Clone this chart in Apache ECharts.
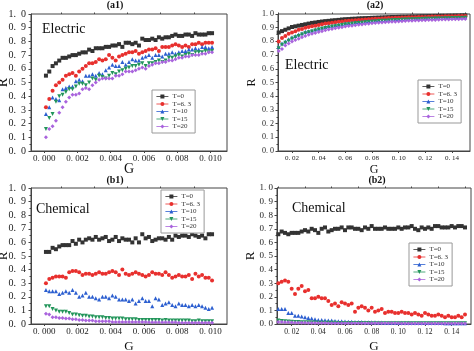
<!DOCTYPE html>
<html>
<head>
<meta charset="utf-8">
<script src="https://cdn.jsdelivr.net/npm/echarts@6/dist/echarts.min.js"></script>
<style>
html, body { margin: 0; padding: 0; background: #fff; }
#chart { width: 474px; height: 351px; }
</style>
</head>
<body>
<div id="chart"></div>
<script>
// x grids (G) of the left and right panels
var G1 = [0.0001, 0.0003, 0.0005, 0.0007, 0.0009, 0.0011, 0.0013, 0.0015, 0.0017, 0.0019,
  0.0021, 0.0023, 0.0025, 0.0027, 0.0029, 0.0031, 0.0033, 0.0035, 0.0037, 0.0039,
  0.0041, 0.0043, 0.0045, 0.0047, 0.0049, 0.0051, 0.0053, 0.0055, 0.0057, 0.0059,
  0.0061, 0.0063, 0.0065, 0.0067, 0.0069, 0.0071, 0.0073, 0.0075, 0.0077, 0.0079,
  0.0081, 0.0083, 0.0085, 0.0087, 0.0089, 0.0091, 0.0093, 0.0095, 0.0097, 0.0099, 0.0101];
var G2 = [0.0100, 0.0125, 0.0150, 0.0175, 0.0200, 0.0225, 0.0250, 0.0275, 0.0300, 0.0325,
  0.0350, 0.0375, 0.0400, 0.0425, 0.0450, 0.0475, 0.0500, 0.0525, 0.0550, 0.0575,
  0.0600, 0.0625, 0.0650, 0.0675, 0.0700, 0.0725, 0.0750, 0.0775, 0.0800, 0.0825,
  0.0850, 0.0875, 0.0900, 0.0925, 0.0950, 0.0975, 0.1000, 0.1025, 0.1050, 0.1075,
  0.1100, 0.1125, 0.1150, 0.1175, 0.1200, 0.1225, 0.1250, 0.1275, 0.1300, 0.1325,
  0.1350, 0.1375, 0.1400, 0.1425, 0.1450, 0.1475, 0.1500];

var names = ['T=0', 'T=6. 3', 'T=10', 'T=15', 'T=20'];
var colors = ['#333333', '#e8302e', '#2c5fd0', '#22955a', '#a963dd'];
var symbols = ['rect', 'circle', 'triangle', 'path://M0,0L10,0L5,9Z', 'diamond'];

var ticks1 = [0, 0.002, 0.004, 0.006, 0.008, 0.010];
var minor1 = [0.001, 0.003, 0.005, 0.007, 0.009];
var ticks2 = [0.02, 0.04, 0.06, 0.08, 0.10, 0.12, 0.14];
var minor2 = [0.01, 0.03, 0.05, 0.07, 0.09, 0.11, 0.13, 0.15];

// (a1) Electric
var a1T0 = [0.55, 0.58, 0.62, 0.64, 0.66, 0.68, 0.68, 0.69, 0.70, 0.70, 0.71, 0.72, 0.72, 0.74, 0.73, 0.75, 0.75, 0.75, 0.76, 0.76,
  0.77, 0.77, 0.78, 0.76, 0.79, 0.79, 0.78, 0.79, 0.77, 0.82, 0.81, 0.81, 0.82, 0.81, 0.83, 0.82, 0.83, 0.83, 0.84, 0.85,
  0.84, 0.84, 0.85, 0.85, 0.84, 0.86, 0.85, 0.85, 0.85, 0.86, 0.86];
var a1T6 = [0.32, 0.38, 0.44, 0.48, 0.50, 0.52, 0.55, 0.56, 0.57, 0.55, 0.58, 0.60, 0.62, 0.64, 0.64, 0.65, 0.67, 0.66, 0.67, 0.70,
  0.68, 0.66, 0.69, 0.70, 0.71, 0.72, 0.72, 0.73, 0.71, 0.72, 0.73, 0.74, 0.74, 0.75, 0.73, 0.76, 0.76, 0.76, 0.77, 0.78,
  0.77, 0.76, 0.77, 0.76, 0.78, 0.78, 0.79, 0.78, 0.79, 0.79, 0.79];
var a1T10 = [0.27, 0.32, 0.39, 0.38, 0.37, 0.45, 0.46, 0.47, 0.47, 0.51, 0.52, 0.51, 0.55, 0.55, 0.56, 0.55, 0.57, 0.56, 0.59, 0.61,
  0.63, 0.62, 0.62, 0.65, 0.63, 0.65, 0.67, 0.66, 0.66, 0.68, 0.69, 0.70, 0.68, 0.70, 0.70, 0.69, 0.71, 0.71, 0.72, 0.71,
  0.72, 0.73, 0.73, 0.74, 0.74, 0.75, 0.74, 0.76, 0.76, 0.75, 0.76];
var a1T15 = [0.16, 0.24, 0.27, 0.36, 0.40, 0.41, 0.43, 0.45, 0.45, 0.47, 0.49, 0.49, 0.48, 0.50, 0.53, 0.52, 0.55, 0.54, 0.53, 0.55,
  0.57, 0.56, 0.58, 0.59, 0.60, 0.61, 0.62, 0.62, 0.63, 0.64, 0.62, 0.64, 0.64, 0.65, 0.66, 0.65, 0.66, 0.68, 0.68, 0.69,
  0.70, 0.69, 0.70, 0.71, 0.70, 0.72, 0.72, 0.72, 0.73, 0.72, 0.73];
var a1T20 = [0.10, 0.16, 0.18, 0.22, 0.28, 0.32, 0.36, 0.39, 0.41, 0.41, 0.42, 0.45, 0.46, 0.45, 0.48, 0.50, 0.52, 0.53, 0.53, 0.53,
  0.53, 0.55, 0.55, 0.56, 0.58, 0.58, 0.58, 0.59, 0.60, 0.61, 0.60, 0.62, 0.63, 0.64, 0.64, 0.65, 0.65, 0.66, 0.66, 0.67,
  0.68, 0.68, 0.69, 0.69, 0.70, 0.70, 0.70, 0.71, 0.71, 0.72, 0.72];

// (a2) Electric
var a2T0 = [0.865, 0.875, 0.885, 0.895, 0.905, 0.91, 0.915, 0.92, 0.925, 0.93, 0.935, 0.938, 0.942, 0.945, 0.948, 0.95, 0.953, 0.955, 0.957, 0.96,
  0.962, 0.963, 0.965, 0.966, 0.968, 0.969, 0.97, 0.971, 0.972, 0.973, 0.974, 0.975, 0.976, 0.977, 0.978, 0.978, 0.979, 0.98, 0.98, 0.981,
  0.982, 0.982, 0.983, 0.984, 0.984, 0.985, 0.985, 0.986, 0.986, 0.987, 0.987, 0.988, 0.988, 0.989, 0.989, 0.99, 0.99];
var a2T6 = [0.80, 0.825, 0.84, 0.855, 0.865, 0.875, 0.885, 0.89, 0.9, 0.905, 0.91, 0.915, 0.92, 0.925, 0.93, 0.933, 0.937, 0.94, 0.943, 0.946,
  0.948, 0.95, 0.952, 0.954, 0.956, 0.958, 0.96, 0.962, 0.963, 0.965, 0.966, 0.967, 0.969, 0.97, 0.971, 0.972, 0.973, 0.974, 0.975, 0.976,
  0.977, 0.977, 0.978, 0.979, 0.979, 0.98, 0.981, 0.981, 0.982, 0.982, 0.983, 0.983, 0.984, 0.984, 0.985, 0.985, 0.986];
var a2T10 = [0.76, 0.785, 0.80, 0.815, 0.83, 0.84, 0.85, 0.86, 0.87, 0.875, 0.88, 0.887, 0.893, 0.9, 0.905, 0.91, 0.914, 0.918, 0.922, 0.926,
  0.93, 0.933, 0.936, 0.939, 0.942, 0.944, 0.946, 0.948, 0.95, 0.952, 0.954, 0.955, 0.957, 0.958, 0.96, 0.961, 0.962, 0.963, 0.964, 0.965,
  0.966, 0.967, 0.968, 0.969, 0.97, 0.97, 0.971, 0.972, 0.972, 0.973, 0.974, 0.974, 0.975, 0.975, 0.976, 0.976, 0.977];
var a2T15 = [0.75, 0.775, 0.79, 0.805, 0.82, 0.83, 0.84, 0.85, 0.86, 0.867, 0.873, 0.88, 0.886, 0.892, 0.897, 0.902, 0.907, 0.911, 0.915, 0.919,
  0.923, 0.926, 0.929, 0.932, 0.935, 0.937, 0.94, 0.942, 0.944, 0.946, 0.948, 0.95, 0.951, 0.953, 0.954, 0.956, 0.957, 0.958, 0.959, 0.96,
  0.961, 0.962, 0.963, 0.964, 0.965, 0.965, 0.966, 0.967, 0.967, 0.968, 0.969, 0.969, 0.97, 0.97, 0.971, 0.971, 0.972];
var a2T20 = [0.73, 0.745, 0.77, 0.785, 0.80, 0.81, 0.82, 0.83, 0.84, 0.848, 0.855, 0.862, 0.869, 0.875, 0.881, 0.886, 0.891, 0.896, 0.9, 0.904,
  0.908, 0.912, 0.915, 0.918, 0.921, 0.924, 0.927, 0.929, 0.932, 0.934, 0.936, 0.938, 0.94, 0.941, 0.943, 0.944, 0.946, 0.947, 0.948, 0.95,
  0.951, 0.952, 0.953, 0.954, 0.955, 0.956, 0.957, 0.957, 0.958, 0.959, 0.96, 0.96, 0.961, 0.962, 0.962, 0.963, 0.963];

// (b1) Chemical
var b1T0 = [0.53, 0.53, 0.56, 0.55, 0.57, 0.58, 0.58, 0.58, 0.61, 0.59, 0.62, 0.60, 0.62, 0.63, 0.62, 0.64, 0.62, 0.63, 0.64, 0.61,
  0.62, 0.64, 0.61, 0.63, 0.62, 0.62, 0.60, 0.63, 0.60, 0.66, 0.63, 0.64, 0.61, 0.62, 0.63, 0.63, 0.62, 0.64, 0.62, 0.65,
  0.64, 0.65, 0.65, 0.64, 0.66, 0.65, 0.64, 0.65, 0.63, 0.66, 0.66];
var b1T6 = [0.30, 0.33, 0.34, 0.35, 0.35, 0.35, 0.34, 0.38, 0.39, 0.39, 0.38, 0.36, 0.37, 0.37, 0.36, 0.37, 0.38, 0.37, 0.37, 0.38,
  0.39, 0.38, 0.36, 0.40, 0.37, 0.36, 0.37, 0.38, 0.37, 0.36, 0.35, 0.36, 0.38, 0.37, 0.37, 0.36, 0.38, 0.36, 0.34, 0.35,
  0.36, 0.35, 0.35, 0.36, 0.33, 0.37, 0.35, 0.36, 0.34, 0.34, 0.32];
var b1T10 = [0.25, 0.24, 0.24, 0.24, 0.22, 0.23, 0.24, 0.23, 0.25, 0.23, 0.20, 0.21, 0.23, 0.20, 0.20, 0.19, 0.18, 0.20, 0.20, 0.19,
  0.21, 0.20, 0.18, 0.18, 0.18, 0.17, 0.18, 0.15, 0.17, 0.19, 0.17, 0.17, 0.13, 0.19, 0.18, 0.14, 0.15, 0.16, 0.14, 0.13,
  0.15, 0.14, 0.14, 0.13, 0.14, 0.13, 0.14, 0.13, 0.12, 0.11, 0.12];
var b1T15 = [0.13, 0.13, 0.11, 0.10, 0.09, 0.09, 0.09, 0.08, 0.07, 0.07, 0.065, 0.06, 0.06, 0.055, 0.055, 0.05, 0.05, 0.05, 0.045, 0.045,
  0.04, 0.04, 0.04, 0.04, 0.035, 0.035, 0.035, 0.035, 0.03, 0.03, 0.03, 0.03, 0.03, 0.03, 0.03, 0.025, 0.03, 0.025, 0.025, 0.025,
  0.025, 0.025, 0.025, 0.025, 0.02, 0.02, 0.025, 0.02, 0.02, 0.02, 0.02];
var b1T20 = [0.075, 0.07, 0.05, 0.05, 0.045, 0.045, 0.04, 0.04, 0.035, 0.035, 0.03, 0.03, 0.025, 0.025, 0.025, 0.02, 0.02, 0.02, 0.02, 0.02,
  0.015, 0.015, 0.015, 0.015, 0.015, 0.015, 0.015, 0.015, 0.015, 0.015, 0.015, 0.012, 0.012, 0.012, 0.012, 0.012, 0.012, 0.012, 0.012, 0.012,
  0.01, 0.01, 0.01, 0.01, 0.01, 0.01, 0.01, 0.01, 0.01, 0.01, 0.01];

// (b2) Chemical
var b2T0 = [0.66, 0.68, 0.67, 0.66, 0.67, 0.67, 0.67, 0.68, 0.69, 0.68, 0.70, 0.69, 0.67, 0.70, 0.71, 0.68, 0.69, 0.70, 0.70, 0.71,
  0.69, 0.71, 0.71, 0.70, 0.70, 0.69, 0.71, 0.70, 0.72, 0.70, 0.70, 0.70, 0.71, 0.70, 0.70, 0.70, 0.71, 0.70, 0.71, 0.71,
  0.72, 0.70, 0.69, 0.71, 0.70, 0.71, 0.70, 0.72, 0.72, 0.71, 0.71, 0.71, 0.72, 0.71, 0.72, 0.72, 0.71];
var b2T6 = [0.30, 0.31, 0.32, 0.31, 0.26, 0.22, 0.26, 0.28, 0.24, 0.25, 0.19, 0.19, 0.20, 0.19, 0.19, 0.17, 0.14, 0.15, 0.13, 0.16,
  0.15, 0.14, 0.15, 0.09, 0.12, 0.13, 0.12, 0.10, 0.12, 0.09, 0.10, 0.11, 0.08, 0.09, 0.09, 0.08, 0.08, 0.09, 0.08, 0.08,
  0.07, 0.08, 0.07, 0.06, 0.08, 0.07, 0.06, 0.06, 0.07, 0.06, 0.05, 0.06, 0.05, 0.05, 0.06, 0.05, 0.07];
var b2T10 = [0.11, 0.11, 0.11, 0.08, 0.08, 0.06, 0.06, 0.055, 0.05, 0.045, 0.04, 0.035, 0.03, 0.03, 0.028, 0.025, 0.025, 0.022, 0.02, 0.02,
  0.018, 0.017, 0.016, 0.015, 0.015, 0.014, 0.013, 0.013, 0.012, 0.012, 0.011, 0.011, 0.01, 0.01, 0.01, 0.01, 0.009, 0.009, 0.009, 0.009,
  0.008, 0.008, 0.008, 0.008, 0.008, 0.007, 0.007, 0.007, 0.007, 0.007, 0.006, 0.006, 0.006, 0.006, 0.006, 0.006, 0.006];
var b2T15 = [0.025, 0.022, 0.02, 0.018, 0.016, 0.015, 0.014, 0.013, 0.012, 0.012, 0.011, 0.011, 0.01, 0.01, 0.01, 0.009, 0.009, 0.009, 0.008, 0.008,
  0.008, 0.008, 0.007, 0.007, 0.007, 0.007, 0.007, 0.007, 0.006, 0.006, 0.006, 0.006, 0.006, 0.006, 0.006, 0.006, 0.006, 0.005, 0.005, 0.005,
  0.005, 0.005, 0.005, 0.005, 0.005, 0.005, 0.005, 0.005, 0.005, 0.005, 0.005, 0.005, 0.005, 0.005, 0.005, 0.005, 0.005];
var b2T20 = [0.015, 0.014, 0.013, 0.012, 0.011, 0.01, 0.01, 0.009, 0.009, 0.008, 0.008, 0.008, 0.007, 0.007, 0.007, 0.006, 0.006, 0.006, 0.006, 0.006,
  0.005, 0.005, 0.005, 0.005, 0.005, 0.005, 0.005, 0.005, 0.005, 0.005, 0.005, 0.005, 0.005, 0.005, 0.005, 0.005, 0.005, 0.004, 0.004, 0.004,
  0.004, 0.004, 0.004, 0.004, 0.004, 0.004, 0.004, 0.004, 0.004, 0.004, 0.004, 0.004, 0.004, 0.004, 0.004, 0.004, 0.004];

var serif = '"Liberation Serif", "Times New Roman", serif';

// one entry per panel: grid box, x range, font sizes, data
var panels = [
  { box: { left: 31, top: 14, width: 196, height: 137 }, xs: G1, min: -0.0008, max: 0.011, ticks: ticks1, minor: minor1, dec: 3,
    xFont: 9, yFont: 10, ySep: '.  ', nameFont: 14, rGap: 21, gGap: 11, xMargin: 3, yMargin: 5,
    series: [a1T0, a1T6, a1T10, a1T15, a1T20] },
  { box: { left: 278, top: 14, width: 192, height: 137 }, xs: G2, min: 0.0095, max: 0.1535, ticks: ticks2, minor: minor2, dec: 2,
    xFont: 7, yFont: 8, ySep: '. ', nameFont: 12, rGap: 20, gGap: 13, xMargin: 4, yMargin: 4,
    series: [a2T0, a2T6, a2T10, a2T15, a2T20] },
  { box: { left: 31, top: 188, width: 196, height: 136 }, xs: G1, min: -0.0008, max: 0.011, ticks: ticks1, minor: minor1, dec: 3,
    xFont: 9, yFont: 10, ySep: '.  ', nameFont: 13, rGap: 21, gGap: 16, xMargin: 3, yMargin: 5,
    series: [b1T0, b1T6, b1T10, b1T15, b1T20] },
  { box: { left: 277, top: 188, width: 194, height: 136 }, xs: G2, min: 0.009, max: 0.1545, ticks: ticks2, minor: minor2, dec: 2,
    xFont: 7.5, yFont: 9, ySep: '. ', nameFont: 13, rGap: 20, gGap: 16, xMargin: 4, yMargin: 4,
    series: [b2T0, b2T6, b2T10, b2T15, b2T20] }
];

var legendPos = [
  { left: 152, top: 90 },
  { left: 418, top: 80 },
  { left: 161, top: 190 },
  { left: 409, top: 243 }
];

function pairs(xs, ys) {
  return xs.map(function (x, i) { return [x, ys[i]]; });
}

var grid = [], xAxis = [], yAxis = [], series = [], legend = [];

panels.forEach(function (p, pi) {
  grid.push(Object.assign({ show: true, borderColor: '#444', borderWidth: 1, outerBoundsMode: 'none', containLabel: false }, p.box));

  xAxis.push({
    type: 'value', gridIndex: pi, min: p.min, max: p.max,
    name: 'G', nameLocation: 'middle', nameGap: p.gGap, nameMoveOverlap: false,
    nameTextStyle: { fontFamily: serif, fontSize: p.nameFont, color: '#111', verticalAlign: 'top' },
    axisLine: { show: true, onZero: false, lineStyle: { color: '#444' } },
    axisTick: { show: true, length: 2, customValues: p.ticks, lineStyle: { color: '#444' } },
    axisLabel: {
      customValues: p.ticks, margin: p.xMargin, fontSize: p.xFont, fontFamily: serif, color: '#222',
      formatter: (function (d) { return function (v) { return v.toFixed(d).replace('.', '. '); }; })(p.dec)
    },
    splitLine: { show: false }
  });
  // minor ticks
  xAxis.push({
    type: 'value', gridIndex: pi, min: p.min, max: p.max,
    axisLine: { show: false, onZero: false },
    axisTick: { show: true, length: 1.5, customValues: p.minor, lineStyle: { color: '#444' } },
    axisLabel: { show: false, customValues: p.minor },
    splitLine: { show: false }
  });

  yAxis.push({
    type: 'value', gridIndex: pi, min: 0, max: 1, interval: 0.1,
    name: 'R', nameLocation: 'middle', nameGap: p.rGap, nameRotate: 90, nameMoveOverlap: false,
    nameTextStyle: { fontFamily: serif, fontSize: p.nameFont, color: '#111' },
    axisLine: { show: true, onZero: false, lineStyle: { color: '#444' } },
    axisTick: { show: true, length: 2.5, lineStyle: { color: '#444' } },
    minorTick: { show: true, splitNumber: 2, length: 1.5, lineStyle: { color: '#444' } },
    axisLabel: {
      margin: p.yMargin, fontSize: p.yFont, fontFamily: serif, color: '#222',
      formatter: (function (sep) {
        return function (v) { return v.toFixed(1).replace('.', sep); };
      })(p.ySep)
    },
    splitLine: { show: false }
  });

  p.series.forEach(function (vals, k) {
    series.push({
      type: 'line', name: names[k], xAxisIndex: pi * 2, yAxisIndex: pi,
      data: pairs(p.xs, vals),
      symbol: symbols[k], symbolSize: 4, showAllSymbol: true,
      lineStyle: { opacity: 0 },
      itemStyle: { color: colors[k] },
      silent: true
    });
  });

  legend.push(Object.assign({
    orient: 'vertical', data: names, itemWidth: 12, itemHeight: 5, itemGap: 0.5,
    padding: [3, 4, 3, 4], borderColor: '#999', borderWidth: 1, backgroundColor: '#fff',
    textStyle: { fontFamily: serif, fontSize: 7, lineHeight: 7, color: '#333', padding: [0, 0, 0, -1] },
    lineStyle: { opacity: 1, width: 0.8 },
    selectedMode: false
  }, legendPos[pi]));
});

var titles = [
  { text: '(a1)', left: 115, top: 0 },
  { text: '(a2)', left: 375, top: 0 },
  { text: '(b1)', left: 115, top: 175 },
  { text: '(b2)', left: 377, top: 175 }
].map(function (t) {
  return {
    text: t.text, left: t.left, top: t.top, textAlign: 'center', padding: 0,
    textStyle: { fontFamily: serif, fontSize: 10, fontWeight: 'bold', color: '#111' }
  };
});

var notes = [
  { text: 'Electric', x: 42, y: 29 },
  { text: 'Electric', x: 285, y: 65 },
  { text: 'Chemical', x: 36, y: 209 },
  { text: 'Chemical', x: 292, y: 208 }
];

var chart = echarts.init(document.getElementById('chart'));
chart.setOption({
  animation: false,
  backgroundColor: '#fff',
  title: titles,
  grid: grid,
  xAxis: xAxis,
  yAxis: yAxis,
  legend: legend,
  series: series,
  graphic: notes.map(function (n) {
    return {
      type: 'text', x: n.x, y: n.y, silent: true,
      style: { text: n.text, font: '14px ' + serif, fill: '#111', verticalAlign: 'middle' }
    };
  })
});
</script>
</body>
</html>
